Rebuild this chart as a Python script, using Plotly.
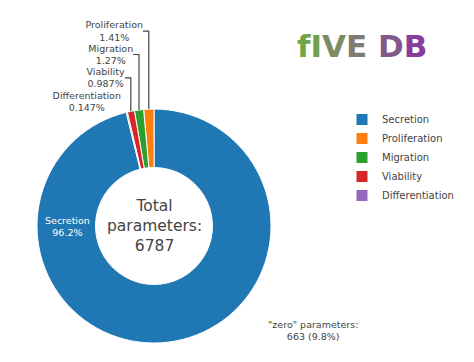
import plotly.graph_objects as go

categories = ["Secretion", "Proliferation", "Migration", "Viability", "Differentiation"]
counts = [6528, 96, 86, 67, 10]
colors = ["#1f77b4", "#ff7f0e", "#2ca02c", "#d62728", "#9467bd"]
total_params = 6787
zero_count = 663
zero_pct = "9.8%"
title_letters = ["f", "I", "V", "E", " ", "D", "B"]
title_colors = ["#6fa546", "#73a04e", "#7b8c64", "#7f7c72", "#000000", "#84578a", "#873d9a"]

OFF = 8  # page body margin offset
W, H = 474 - OFF, 362 - OFF
# reference-pixel geometry (converted to figure coords by subtracting OFF)
cx, cy, r = 154 - OFF, 226 - OFF, 117
top, bot = cy - r, H - (cy + r)
ph = H - top - bot


def px_x(x):
    return (x - OFF) / W


def px_y(y):
    return (H - (y - OFF) - bot) / ph


total = sum(counts)
texts = [""] + ["%{label}<br>%{percent}"] * (len(categories) - 1)

fig = go.Figure(go.Pie(
    labels=categories,
    values=counts,
    hole=0.5,
    sort=True,
    direction="counterclockwise",
    rotation=0,
    texttemplate=texts,
    textposition="auto",
    marker=dict(colors=colors, line=dict(color="white", width=1)),
    insidetextfont=dict(color="white", size=9.5),
    outsidetextfont=dict(color="#444", size=9.5),
    domain=dict(x=[(cx - r) / W, (cx + r) / W], y=[0, 1]),
))

title_html = "".join(
    f'<span style="color:{c}">{ch}</span>' if ch != " " else " "
    for ch, c in zip(title_letters, title_colors)
)

sec_pct = 100 * counts[0] / total

fig.update_layout(
    width=W, height=H,
    margin=dict(l=0, r=0, t=top, b=bot),
    paper_bgcolor="white",
    font=dict(family="DejaVu Sans, Verdana, sans-serif", color="#444", size=10),
    showlegend=True,
    legend=dict(x=px_x(342), xanchor="left", y=px_y(105), yanchor="top",
                font=dict(size=10, color="#444")),
    annotations=[
        dict(text=f"Total<br>parameters:<br>{total_params}", x=px_x(154), y=px_y(226),
             xref="paper", yref="paper", xanchor="center", yanchor="middle",
             showarrow=False, font=dict(size=15.5, color="#444")),
        dict(text=f"{categories[0]}<br>{sec_pct:.1f}%", x=px_x(67), y=px_y(226.5),
             xref="paper", yref="paper", xanchor="center", yanchor="middle",
             showarrow=False, font=dict(size=9.5, color="white")),
        dict(text=f'"zero" parameters:<br>{zero_count} ({zero_pct})',
             x=px_x(313), y=px_y(330), xref="paper", yref="paper",
             xanchor="center", yanchor="middle", showarrow=False,
             font=dict(size=9.5, color="#444")),
        dict(text=f"<b>{title_html}</b>", x=px_x(362), y=px_y(46),
             xref="paper", yref="paper", xanchor="center", yanchor="middle",
             showarrow=False,
             font=dict(size=31, family="DejaVu Sans, Verdana, sans-serif")),
    ],
)

fig.write_html("out.html")
